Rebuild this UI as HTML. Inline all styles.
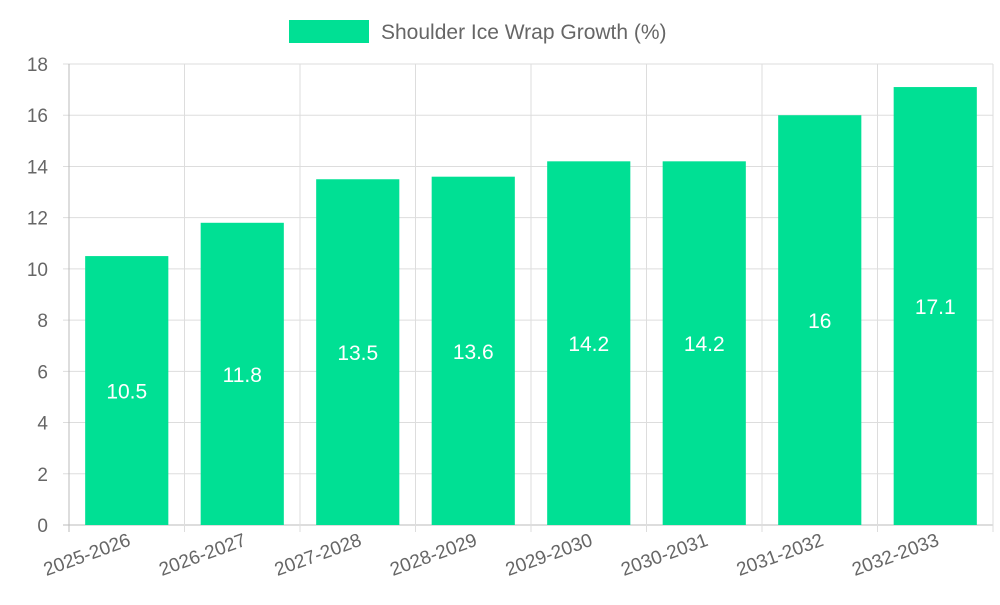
<!DOCTYPE html>
<html><head><meta charset="utf-8"><style>
body{margin:0;background:#fff;font-family:"Liberation Sans",sans-serif}
</style></head><body>
<svg id="chart" width="1000" height="600" xmlns="http://www.w3.org/2000/svg" font-family="Liberation Sans, sans-serif">
<g>
<rect x="289" y="20" width="80" height="23" fill="#00e094"/>
<text x="381" y="39" font-size="21" fill="#666">Shoulder Ice Wrap Growth (%)</text>
</g>
<g id="grid"></g>
<g id="bars"></g>
<g id="axes"></g>
</svg>
<script>
const categories=["2025-2026","2026-2027","2027-2028","2028-2029","2029-2030","2030-2031","2031-2032","2032-2033"];
const values=[10.5,11.8,13.5,13.6,14.2,14.2,16,17.1];
const yTicks=[0,2,4,6,8,10,12,14,16,18];
const L=69,R=993,T=64,B=525,yMax=18;
const NS="http://www.w3.org/2000/svg";
const band=(R-L)/categories.length;
const y=v=>B-(v/yMax)*(B-T);
const x=i=>L+i*band;
function mk(p,tag,a,txt){const e=document.createElementNS(NS,tag);for(const k in a)e.setAttribute(k,a[k]);if(txt!==undefined)e.textContent=txt;p.appendChild(e);return e;}
const g=document.getElementById('grid'),b=document.getElementById('bars'),ax=document.getElementById('axes');
yTicks.forEach(t=>{
 const l=mk(g,'line',{x1:L-6,x2:R,y1:y(t),y2:y(t),stroke:t===0?'#bbb':'#ddd','stroke-width':1});
 
 
 const tx=mk(ax,'text',{x:L-21,y:y(t)+7,'text-anchor':'end','font-size':19,fill:'#666'},t);
 
 
});
for(let i=0;i<=categories.length;i++){
 const l=mk(g,'line',{x1:x(i),x2:x(i),y1:T,y2:B+7,stroke:i===0?'#bbb':'#ddd','stroke-width':1});
 
 
}
categories.forEach((c,i)=>{
 const bw=band*0.72,cx=x(i)+band/2;
 const r=mk(b,'rect',{x:cx-bw/2,y:y(values[i]),width:bw,height:B-y(values[i]),fill:'#00e094'});
 
 
 const v=mk(b,'text',{x:cx,y:(y(values[i])+B)/2+8,'text-anchor':'middle','font-size':21,fill:'#fff'},values[i]);
 
 
 const tl=mk(ax,'text',{x:cx+5,y:B+20,'text-anchor':'end','font-size':19,fill:'#666',transform:`rotate(-20 ${cx+5} ${B+20})`},c);
 
 
});
</script>
</body></html>
